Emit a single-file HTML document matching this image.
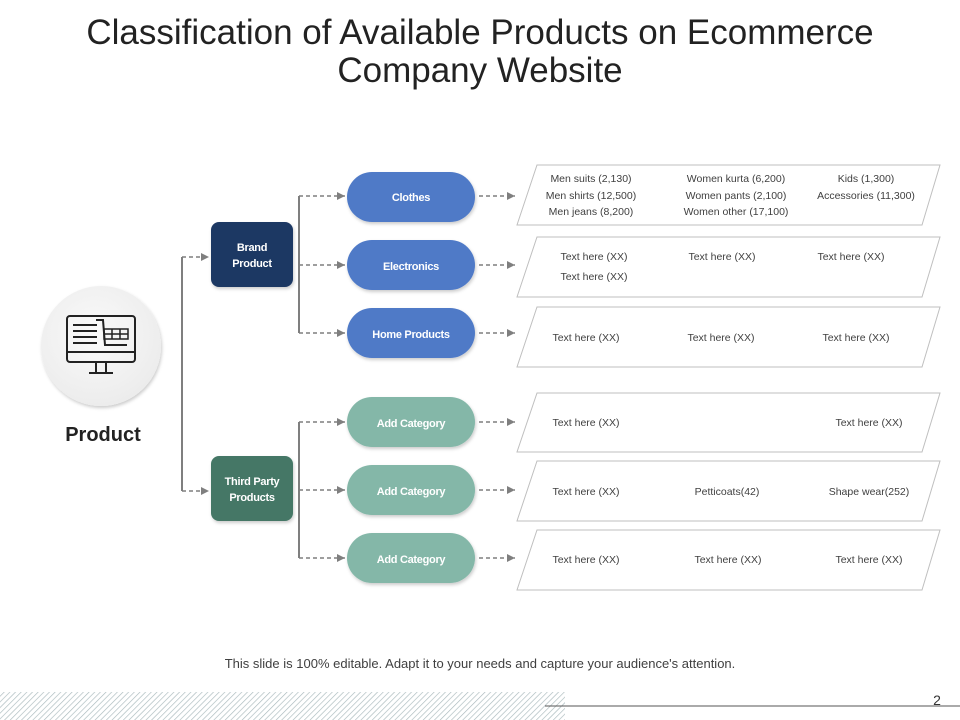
<!DOCTYPE html>
<html><head><meta charset="utf-8"><style>
html,body{margin:0;padding:0;background:#fff}
svg{display:block}
text{font-family:"Liberation Sans",sans-serif}
</style></head><body>
<svg width="960" height="720" viewBox="0 0 960 720" xmlns="http://www.w3.org/2000/svg">
<defs>
<pattern id="hatch" width="4" height="4" patternUnits="userSpaceOnUse" patternTransform="rotate(45)">
<rect width="4" height="4" fill="#fff"/><line x1="0" y1="0" x2="0" y2="4" stroke="#a9b9bc" stroke-width="1.3"/></pattern>
<radialGradient id="cg" cx="0.45" cy="0.4" r="0.6"><stop offset="0" stop-color="#fafafa"/><stop offset="1" stop-color="#ececec"/></radialGradient>
<filter id="sh" x="-20%" y="-20%" width="140%" height="150%"><feDropShadow dx="1" dy="2" stdDeviation="1.5" flood-color="#000" flood-opacity="0.2"/></filter>
<marker id="ar" markerWidth="6" markerHeight="6" refX="5" refY="3" orient="auto"><path d="M0,0.5 L5,3 L0,5.5 Z" fill="#7f7f7f"/></marker>
</defs>
<text x="480" y="44" font-size="35" text-anchor="middle" fill="#222">Classification of Available Products on Ecommerce</text>
<text x="480" y="82" font-size="35" text-anchor="middle" fill="#222">Company Website</text>

<circle cx="101" cy="346" r="60" fill="url(#cg)" filter="url(#sh)"/>
<g fill="none" stroke="#222" stroke-width="2">
<rect x="67" y="316" width="68" height="46" rx="3"/>
<line x1="67" y1="352" x2="135" y2="352"/>
<line x1="96" y1="362" x2="96" y2="372"/><line x1="106" y1="362" x2="106" y2="372"/>
<line x1="89" y1="373" x2="113" y2="373"/>
<line x1="73" y1="325" x2="97" y2="325"/><line x1="73" y1="331" x2="97" y2="331"/><line x1="73" y1="337" x2="97" y2="337"/><line x1="73" y1="343" x2="97" y2="343"/>
<path d="M96 320 L103 320 L105 345 L127 345"/>
<rect x="104" y="329" width="24" height="10" stroke-width="1.5"/>
<line x1="112" y1="329" x2="112" y2="339" stroke-width="1.5"/><line x1="120" y1="329" x2="120" y2="339" stroke-width="1.5"/><line x1="104" y1="334" x2="128" y2="334" stroke-width="1.5"/>
</g>
<text x="103" y="441" font-size="20" font-weight="bold" text-anchor="middle" fill="#222">Product</text>

<g stroke="#7f7f7f" stroke-width="2" fill="none">
<line x1="182" y1="257" x2="182" y2="491"/>
<line x1="299" y1="196" x2="299" y2="333"/>
<line x1="299" y1="422" x2="299" y2="558"/>
</g>
<g stroke="#7f7f7f" stroke-width="1.6" fill="none" stroke-dasharray="4,3" marker-end="url(#ar)">
<line x1="182" y1="257" x2="209" y2="257"/>
<line x1="182" y1="491" x2="209" y2="491"/>
<line x1="299" y1="196" x2="345" y2="196"/>
<line x1="299" y1="265" x2="345" y2="265"/>
<line x1="299" y1="333" x2="345" y2="333"/>
<line x1="299" y1="422" x2="345" y2="422"/>
<line x1="299" y1="490" x2="345" y2="490"/>
<line x1="299" y1="558" x2="345" y2="558"/>
<line x1="479" y1="196" x2="515" y2="196"/>
<line x1="479" y1="265" x2="515" y2="265"/>
<line x1="479" y1="333" x2="515" y2="333"/>
<line x1="479" y1="422" x2="515" y2="422"/>
<line x1="479" y1="490" x2="515" y2="490"/>
<line x1="479" y1="558" x2="515" y2="558"/>
</g>

<g filter="url(#sh)">
<rect x="211" y="222" width="82" height="65" rx="8" fill="#1f3864"/>
<rect x="211" y="456" width="82" height="65" rx="8" fill="#447766"/>
<rect x="347" y="172" width="128" height="50" rx="25" fill="#4f7ac7"/>
<rect x="347" y="240" width="128" height="50" rx="25" fill="#4f7ac7"/>
<rect x="347" y="308" width="128" height="50" rx="25" fill="#4f7ac7"/>
<rect x="347" y="397" width="128" height="50" rx="25" fill="#84b7a8"/>
<rect x="347" y="465" width="128" height="50" rx="25" fill="#84b7a8"/>
<rect x="347" y="533" width="128" height="50" rx="25" fill="#84b7a8"/>
</g>
<g font-size="11" font-weight="bold" fill="#fff" text-anchor="middle" letter-spacing="-0.3">
<text x="252" y="251">Brand</text><text x="252" y="267">Product</text>
<text x="252" y="485">Third Party</text><text x="252" y="501">Products</text>
<text x="411" y="201">Clothes</text>
<text x="411" y="270">Electronics</text>
<text x="411" y="338">Home Products</text>
<text x="411" y="427">Add Category</text>
<text x="411" y="495">Add Category</text>
<text x="411" y="563">Add Category</text>
</g>

<g fill="#fff" stroke="#bfbfbf" stroke-width="1">
<path d="M537 165 L940 165 L922 225 L517 225 Z"/>
<path d="M537 237 L940 237 L922 297 L517 297 Z"/>
<path d="M537 307 L940 307 L922 367 L517 367 Z"/>
<path d="M537 393 L940 393 L922 452 L517 452 Z"/>
<path d="M537 461 L940 461 L922 521 L517 521 Z"/>
<path d="M537 530 L940 530 L922 590 L517 590 Z"/>
</g>
<g font-size="10.5" fill="#404040" text-anchor="middle">
<text x="591" y="182">Men suits (2,130)</text><text x="591" y="199">Men shirts (12,500)</text><text x="591" y="215">Men jeans (8,200)</text>
<text x="736" y="182">Women kurta (6,200)</text><text x="736" y="199">Women pants (2,100)</text><text x="736" y="215">Women other (17,100)</text>
<text x="866" y="182">Kids (1,300)</text><text x="866" y="199">Accessories (11,300)</text>
<text x="594" y="260">Text here (XX)</text><text x="594" y="280">Text here (XX)</text>
<text x="722" y="260">Text here (XX)</text><text x="851" y="260">Text here (XX)</text>
<text x="586" y="341">Text here (XX)</text><text x="721" y="341">Text here (XX)</text><text x="856" y="341">Text here (XX)</text>
<text x="586" y="426">Text here (XX)</text><text x="869" y="426">Text here (XX)</text>
<text x="586" y="495">Text here (XX)</text><text x="727" y="495">Petticoats(42)</text><text x="869" y="495">Shape wear(252)</text>
<text x="586" y="563">Text here (XX)</text><text x="728" y="563">Text here (XX)</text><text x="869" y="563">Text here (XX)</text>
</g>

<text x="480" y="668" font-size="13" fill="#404040" text-anchor="middle">This slide is 100% editable. Adapt it to your needs and capture your audience's attention.</text>
<rect x="0" y="692" width="565" height="28" fill="url(#hatch)"/>
<line x1="545" y1="706" x2="960" y2="706" stroke="#555" stroke-width="1"/>
<text x="937" y="705" font-size="14" fill="#333" text-anchor="middle">2</text>
</svg>
</body></html>
